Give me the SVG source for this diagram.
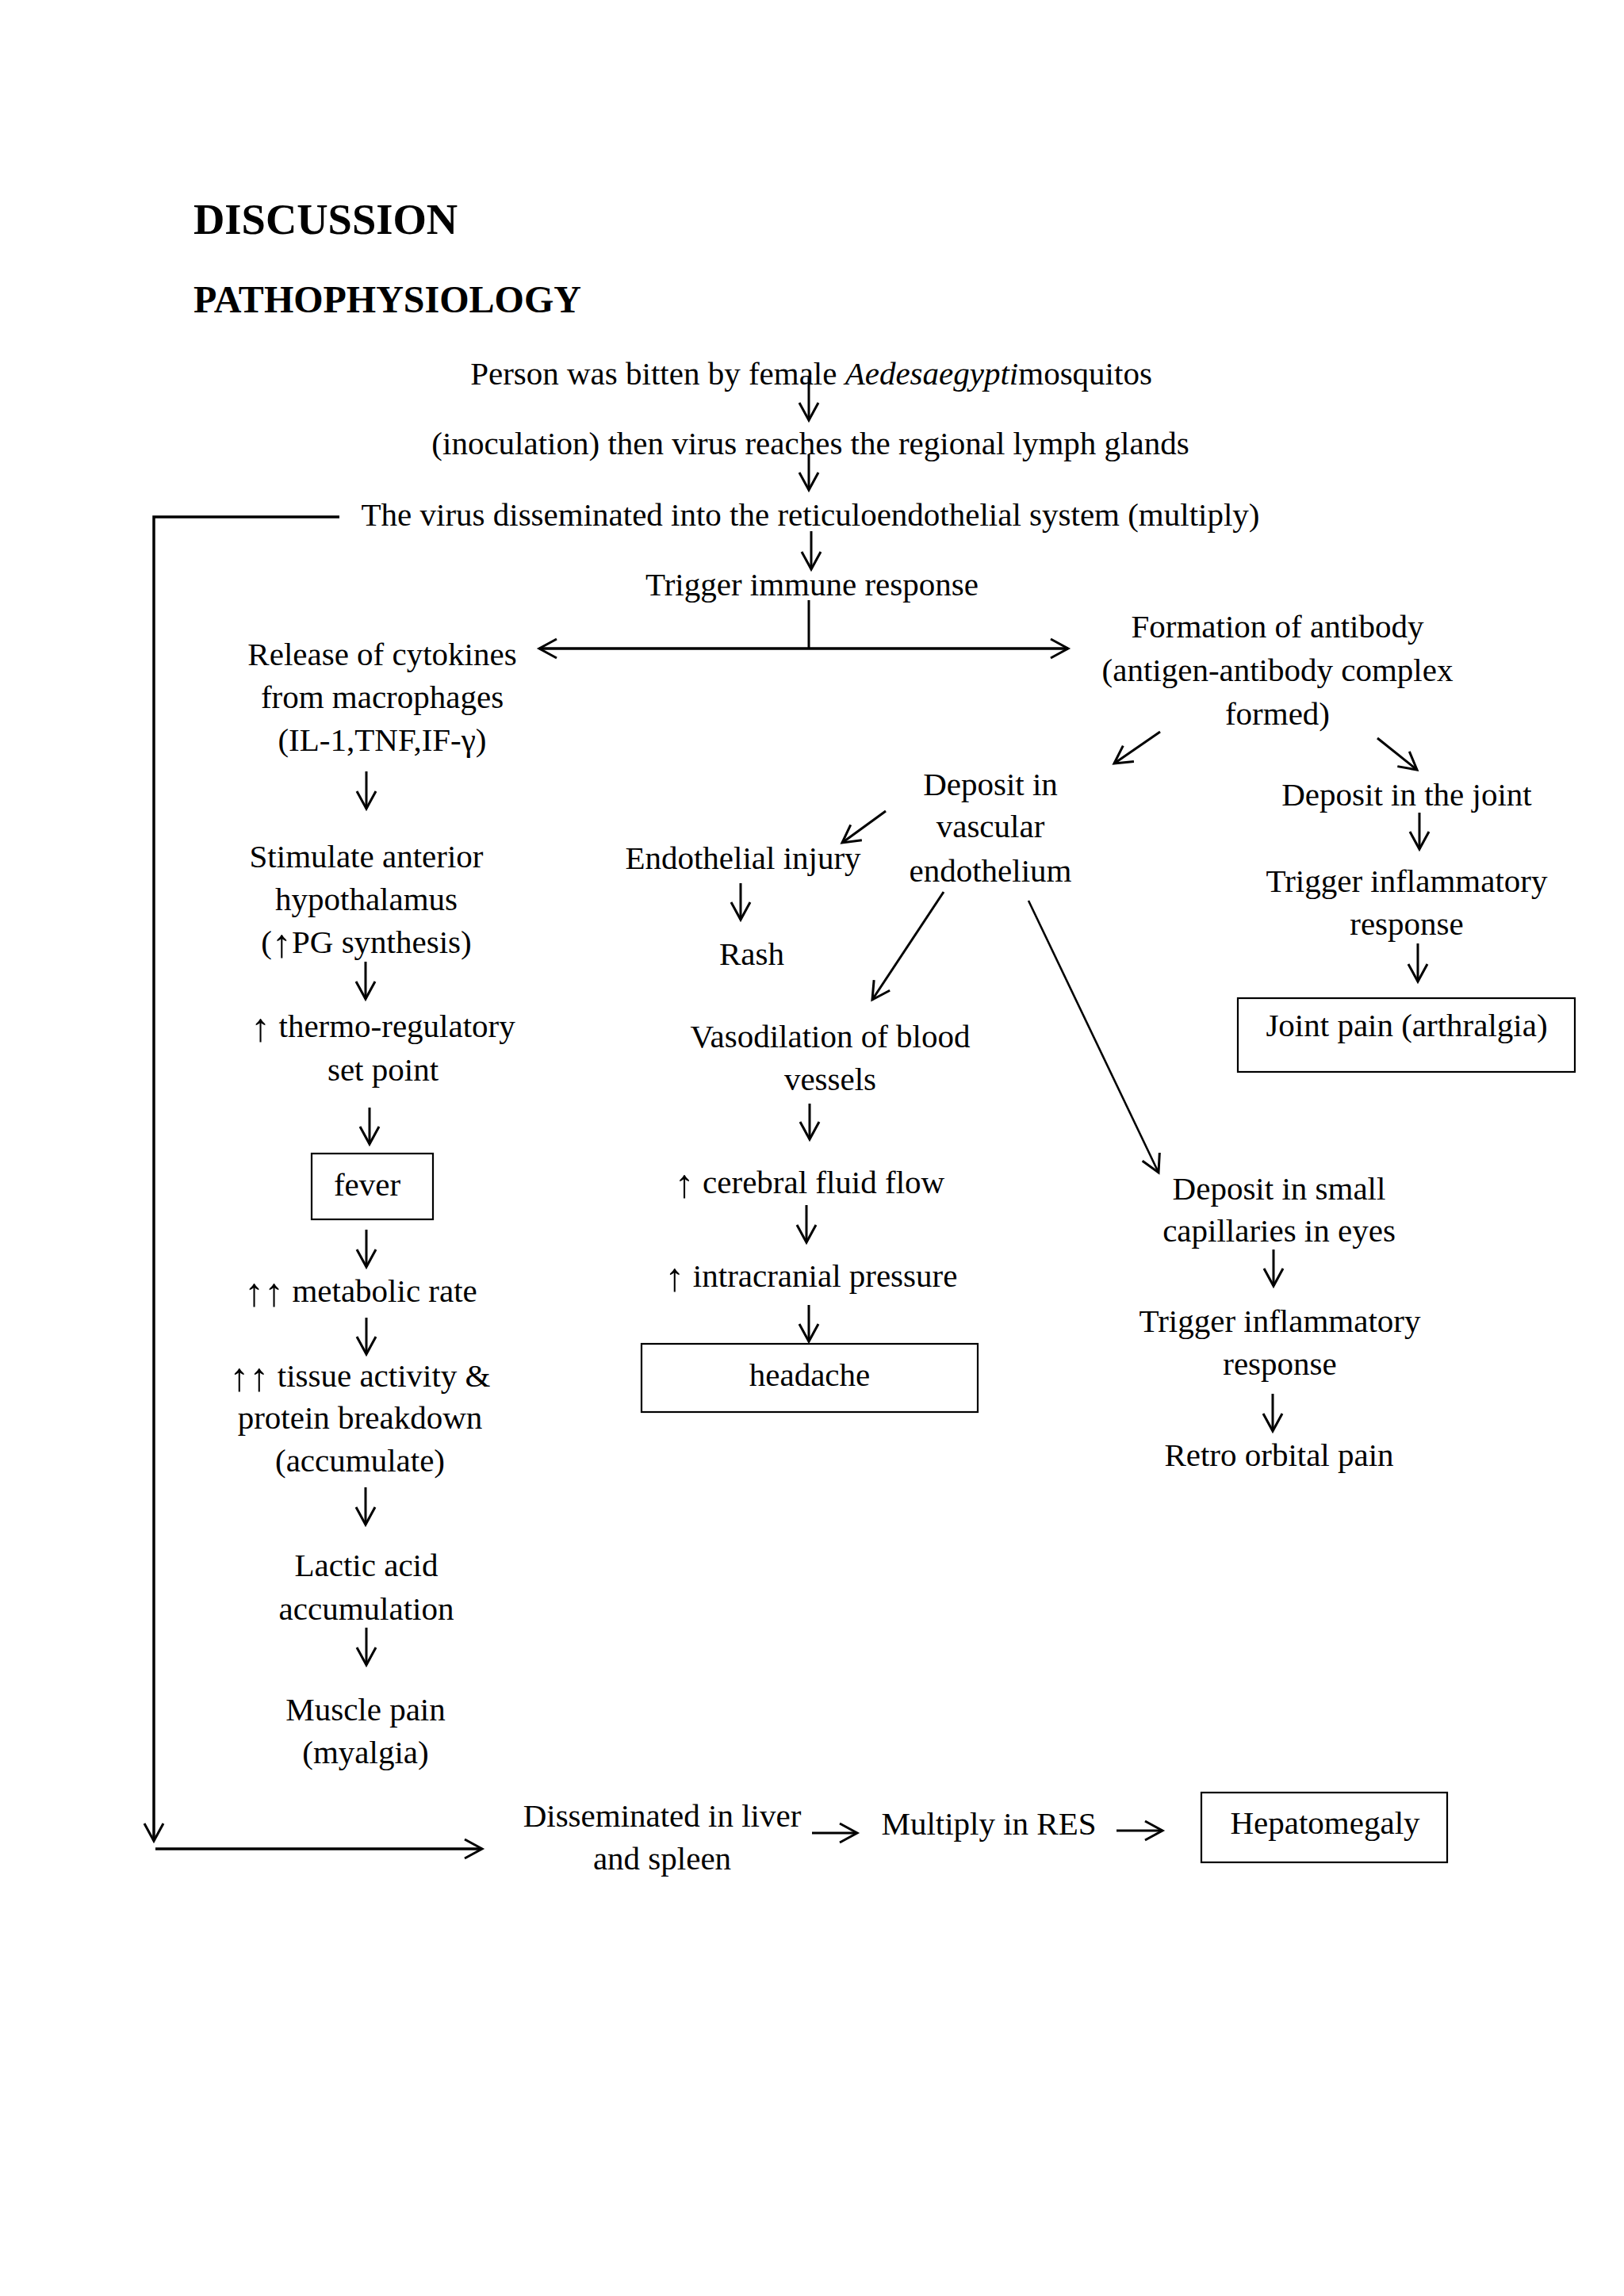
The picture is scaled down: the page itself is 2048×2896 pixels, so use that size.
<svg xmlns="http://www.w3.org/2000/svg" width="2048" height="2896" viewBox="0 0 2048 2896">
<style>
text{font-family:"Liberation Serif","Times New Roman",serif;font-size:41px;fill:#000;text-anchor:middle}
.h1{font-size:54.5px;font-weight:bold;text-anchor:start}
.h2{font-size:48px;font-weight:bold;text-anchor:start}
.up{font-size:50px}
.c{fill:none;stroke:#000;stroke-width:3;marker-end:url(#ah)}
.ln{fill:none;stroke:#000;stroke-width:3}
.box{fill:none;stroke:#000;stroke-width:2.2}
</style>
<defs>
<marker id="ah" viewBox="-28 -16 32 32" markerWidth="32" markerHeight="32" refX="0" refY="0" orient="auto-start-reverse" markerUnits="userSpaceOnUse">
<path d="M-22,-12 L0,0 L-22,12" fill="none" stroke="#000" stroke-width="3"/>
</marker>
</defs>
<rect width="2048" height="2896" fill="#fff"/>
<g id="titles">
<text class="h1" x="244" y="295">DISCUSSION</text>
<text class="h2" x="244" y="394">PATHOPHYSIOLOGY</text>
</g>
<g id="connectors">
<path class="c" d="M1020,475 V530"/>
<path class="c" d="M1020,573 V618"/>
<path class="c" d="M1023,670 V718"/>
<path class="ln" d="M1020,757 V818"/>
<path class="c" d="M680,818 H1347" style="marker-start:url(#ah);stroke-width:3.5"/>
<path class="ln" d="M428,652 H194 V2322" style="stroke-width:3.5;marker-end:url(#ah)"/>
<path class="c" d="M196,2332 H608" style="stroke-width:3.5"/>
<path class="c" d="M462,973 V1020"/>
<path class="c" d="M461,1213 V1260"/>
<path class="c" d="M466,1397 V1443"/>
<path class="c" d="M462,1551 V1598"/>
<path class="c" d="M462,1662 V1708"/>
<path class="c" d="M461,1876 V1923"/>
<path class="c" d="M462,2053 V2100"/>
<path class="c" d="M1463,923 L1405,963"/>
<path class="c" d="M1737,931 L1787,971"/>
<path class="c" d="M1117,1023 L1062,1063"/>
<path class="c" d="M934,1114 V1160"/>
<path class="c" d="M1190,1125 L1100,1261"/>
<path class="c" d="M1297,1136 L1461,1479" style="stroke-width:2.6"/>
<path class="c" d="M1021,1392 V1437"/>
<path class="c" d="M1017,1520 V1567"/>
<path class="c" d="M1020,1646 V1692"/>
<path class="c" d="M1790,1025 V1071"/>
<path class="c" d="M1788,1190 V1238"/>
<path class="c" d="M1606,1576 V1622"/>
<path class="c" d="M1605,1758 V1805"/>
<path class="c" d="M1024,2312 H1081"/>
<path class="c" d="M1408,2309 H1466"/>
</g>
<g id="n-bitten"><text x="1023" y="485">Person was bitten by female <tspan font-style="italic">Aedesaegypti</tspan>mosquitos</text></g>
<g id="n-inoculation"><text x="1022" y="573">(inoculation) then virus reaches the regional lymph glands</text></g>
<g id="n-res"><text x="1022" y="663">The virus disseminated into the reticuloendothelial system (multiply)</text></g>
<g id="n-immune"><text x="1024" y="751">Trigger immune response</text></g>
<g id="n-cytokines"><text x="482" y="839">Release of cytokines</text><text x="482" y="893">from macrophages</text><text x="482" y="947">(IL-1,TNF,IF-γ)</text></g>
<g id="n-hypothalamus"><text x="462" y="1094">Stimulate anterior</text><text x="462" y="1148">hypothalamus</text><text x="462" y="1202">(<tspan class="up" dy="5">↑</tspan><tspan dy="-5">PG synthesis)</tspan></text></g>
<g id="n-setpoint"><text x="483" y="1308"><tspan class="up" dy="5">↑</tspan><tspan dy="-5"> thermo-regulatory</tspan></text><text x="483" y="1363">set point</text></g>
<g id="n-fever"><rect class="box" x="393" y="1455" width="153" height="83"/><text x="463" y="1508">fever</text></g>
<g id="n-metabolic"><text x="455" y="1642"><tspan class="up" dy="5">↑↑</tspan><tspan dy="-5"> metabolic rate</tspan></text></g>
<g id="n-tissue"><text x="454" y="1749"><tspan class="up" dy="5">↑↑</tspan><tspan dy="-5"> tissue activity &amp;</tspan></text><text x="454" y="1802">protein breakdown</text><text x="454" y="1856">(accumulate)</text></g>
<g id="n-lactic"><text x="462" y="1988">Lactic acid</text><text x="462" y="2043">accumulation</text></g>
<g id="n-myalgia"><text x="461" y="2170">Muscle pain</text><text x="461" y="2224">(myalgia)</text></g>
<g id="n-antibody"><text x="1611" y="804">Formation of antibody</text><text x="1611" y="859">(antigen-antibody complex</text><text x="1611" y="914">formed)</text></g>
<g id="n-vascular"><text x="1249" y="1003">Deposit in</text><text x="1249" y="1056">vascular</text><text x="1249" y="1112">endothelium</text></g>
<g id="n-endothelial"><text x="937" y="1096">Endothelial injury</text></g>
<g id="n-rash"><text x="948" y="1217">Rash</text></g>
<g id="n-vasodilation"><text x="1047" y="1321">Vasodilation of blood</text><text x="1047" y="1375">vessels</text></g>
<g id="n-cerebral"><text x="1021" y="1505"><tspan class="up" dy="5">↑</tspan><tspan dy="-5"> cerebral fluid flow</tspan></text></g>
<g id="n-intracranial"><text x="1023" y="1623"><tspan class="up" dy="5">↑</tspan><tspan dy="-5"> intracranial pressure</tspan></text></g>
<g id="n-headache"><rect class="box" x="809" y="1695" width="424" height="86"/><text x="1021" y="1748">headache</text></g>
<g id="n-joint"><text x="1774" y="1016">Deposit in the joint</text></g>
<g id="n-inflam1"><text x="1774" y="1125">Trigger inflammatory</text><text x="1774" y="1179">response</text></g>
<g id="n-arthralgia"><rect class="box" x="1561" y="1259" width="425" height="93"/><text x="1774" y="1307">Joint pain (arthralgia)</text></g>
<g id="n-eyes"><text x="1613" y="1513">Deposit in small</text><text x="1613" y="1566">capillaries in eyes</text></g>
<g id="n-inflam2"><text x="1614" y="1680">Trigger inflammatory</text><text x="1614" y="1734">response</text></g>
<g id="n-retro"><text x="1613" y="1849">Retro orbital pain</text></g>
<g id="n-liver"><text x="835" y="2304">Disseminated in liver</text><text x="835" y="2358">and spleen</text></g>
<g id="n-multiply"><text x="1247" y="2314">Multiply in RES</text></g>
<g id="n-hepatomegaly"><rect class="box" x="1515" y="2261" width="310" height="88"/><text x="1671" y="2313">Hepatomegaly</text></g>
</svg>
